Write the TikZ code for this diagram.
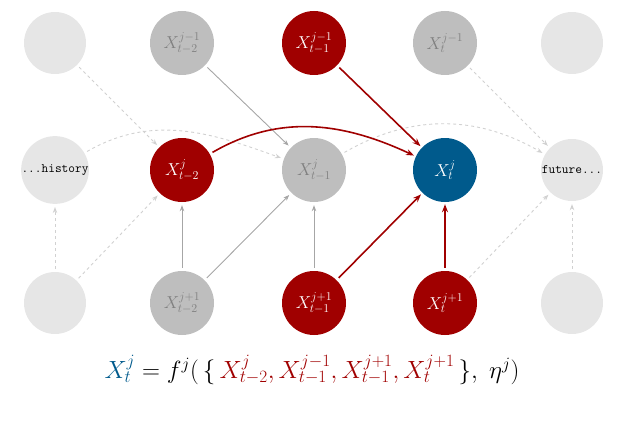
\documentclass[tikz,border=0pt]{standalone}
\usetikzlibrary{arrows.meta}
\definecolor{myred}{HTML}{A00000}
\definecolor{myblue}{HTML}{005A8C}
\definecolor{mygray}{HTML}{BEBEBE}
\definecolor{mylight}{HTML}{E6E6E6}
\begin{document}
\begin{tikzpicture}[x=1pt,y=-1pt,
  base/.style={circle,minimum size=64pt,inner sep=0pt,font=\fontsize{17}{20}\selectfont},
  lt/.style={base,fill=mylight,minimum size=62pt,font=\ttfamily\fontsize{13}{15}\selectfont},
  gr/.style={base,fill=mygray,text=gray},
  rd/.style={base,fill=myred,text=white},
  bl/.style={base,fill=myblue,text=white},
  da/.style={draw=mylight!80!gray,dashed,line width=0.9pt,shorten >=3pt,shorten <=3pt,-{Stealth[length=6pt]}},
  ga/.style={draw=gray!70,line width=0.9pt,shorten >=3pt,shorten <=3pt,-{Stealth[length=6pt]}},
  ra/.style={draw=myred,line width=1.6pt,shorten >=2pt,shorten <=3pt,-{Stealth[length=8pt]}}]
\useasboundingbox (0,0) rectangle (626,441);
\node[lt] (a0) at (55,43) {};
\node[gr] (b0) at (182,43) {$X_{t-2}^{j-1}$};
\node[rd] (c0) at (314,43) {$X_{t-1}^{j-1}$};
\node[gr] (d0) at (445,43) {$X_{t}^{j-1}$};
\node[lt] (e0) at (572,43) {};
\node[lt] (a1) at (55,170) {...history};
\node[rd] (b1) at (182,170) {$X_{t-2}^{j}$};
\node[gr] (c1) at (314,170) {$X_{t-1}^{j}$};
\node[bl] (d1) at (445,170) {$X_{t}^{j}$};
\node[lt] (e1) at (572,170) {future...};
\node[lt] (a2) at (55,303) {};
\node[gr] (b2) at (182,303) {$X_{t-2}^{j+1}$};
\node[rd] (c2) at (314,303) {$X_{t-1}^{j+1}$};
\node[rd] (d2) at (445,303) {$X_{t}^{j+1}$};
\node[lt] (e2) at (572,303) {};
\draw[da] (a0) -- (b1);
\draw[da] (a2) -- (a1);
\draw[da] (a2) -- (b1);
\draw[da] (d0) -- (e1);
\draw[da] (d2) -- (e1);
\draw[da] (e2) -- (e1);
\draw[da] (a1) to[out=30,in=160] (c1);
\draw[da] (c1) to[out=30,in=150] (e1);
\draw[ga] (b0) -- (c1);
\draw[ga] (b2) -- (b1);
\draw[ga] (b2) -- (c1);
\draw[ga] (c2) -- (c1);
\draw[ra] (c0) -- (d1);
\draw[ra] (b1) to[out=30,in=155] (d1);
\draw[ra] (c2) -- (d1);
\draw[ra] (d2) -- (d1);
\node (eq) at (312,370) {\fontsize{24}{28}\selectfont $\color{myblue}X_t^j\color{black} = f^j\Bigg(\,\{\,\color{myred}X_{t-2}^{j}, X_{t-1}^{j-1}, X_{t-1}^{j+1}, X_{t}^{j+1}\color{black}\,\},\ \eta^j\Bigg)$};
\end{tikzpicture}
\end{document}
